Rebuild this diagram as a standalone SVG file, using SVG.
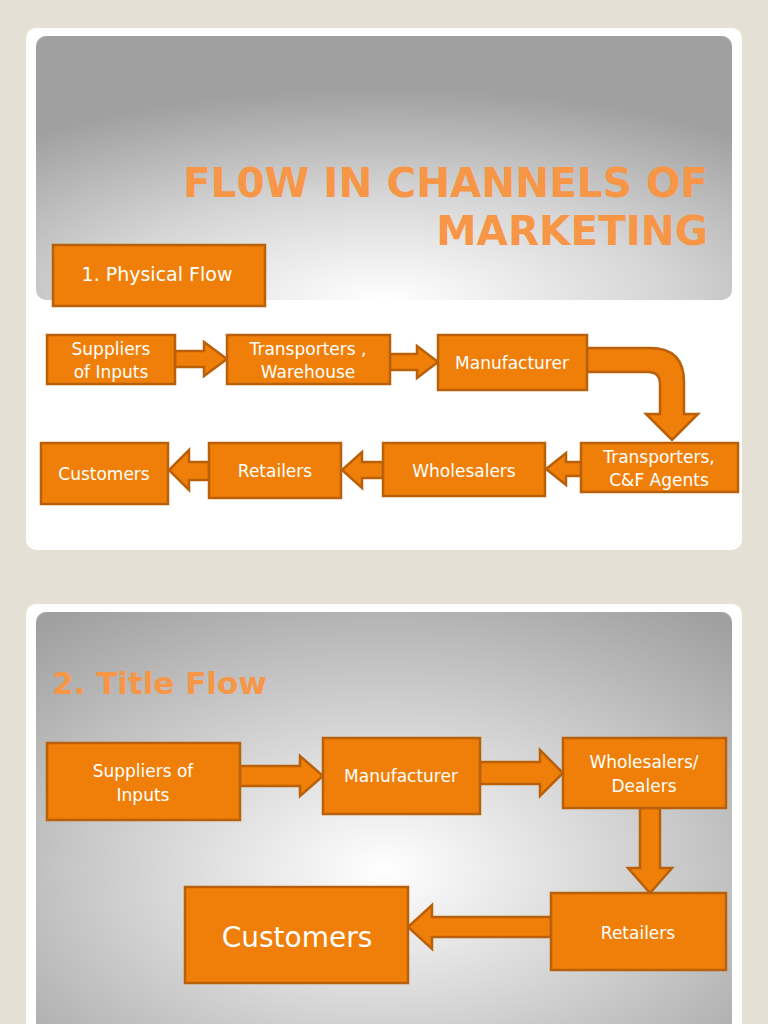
<svg xmlns="http://www.w3.org/2000/svg" width="768" height="1024" viewBox="0 0 768 1024">
<defs>
<radialGradient id="g1" cx="0.5" cy="1" r="0.8">
<stop offset="0" stop-color="#ffffff"/><stop offset="0.5" stop-color="#d6d6d6"/><stop offset="1" stop-color="#a0a0a0"/>
</radialGradient>
<radialGradient id="g2" cx="0.5" cy="0.6" r="0.75">
<stop offset="0" stop-color="#ffffff"/><stop offset="0.5" stop-color="#d0d0d0"/><stop offset="1" stop-color="#a0a0a0"/>
</radialGradient>
<style>
.b{fill:#f07f09;stroke:#b9600a;stroke-width:2.5}
.a{fill:#f07f09;stroke:#b9600a;stroke-width:2.5;stroke-linejoin:miter}
.t{font-family:"DejaVu Sans",Verdana,sans-serif;fill:#fff;font-size:17px;text-anchor:middle}
.h{font-family:"DejaVu Sans",sans-serif;font-weight:bold;fill:#f79646}
</style>
</defs>
<rect width="768" height="1024" fill="#e5e0d6"/>
<rect x="26" y="28" width="716" height="522" rx="10" fill="#fff"/>
<rect x="36" y="36" width="696" height="264" rx="10" fill="url(#g1)"/>
<rect x="26" y="604" width="716" height="440" rx="10" fill="#fff"/>
<rect x="36" y="612" width="696" height="430" rx="10" fill="url(#g2)"/>
<text class="h" x="708" y="197" style="font-size:40.5px" text-anchor="end">FL0W IN CHANNELS OF</text>
<text class="h" x="708" y="245" style="font-size:40.5px" text-anchor="end">MARKETING</text>
<text class="h" x="52" y="694" style="font-size:31px">2. Title Flow</text>
<g id="connectors">
<polygon class="a" points="175,351 204,351 204,342 227,359 204,376 204,367 175,367"/>
<polygon class="a" points="390,354 417,354 417,346 438,362 417,378 417,370 390,370"/>
<path class="a" d="M587,348 L650,348 Q684,348 684,382 L684,414 L698,414 L672,440 L646,414 L660,414 L660,384 Q660,372 648,372 L587,372 Z"/>
<polygon class="a" points="581,462 566,462 566,453 546,469 566,485 566,476 581,476"/>
<polygon class="a" points="383,462 362,462 362,452 342,470 362,488 362,478 383,478"/>
<polygon class="a" points="209,462 189,462 189,450 169,470 189,490 189,480 209,480"/>
<polygon class="a" points="240,766 300,766 300,756 323,776 300,796 300,786 240,786"/>
<polygon class="a" points="480,762 540,762 540,750 563,773 540,796 540,784 480,784"/>
<polygon class="a" points="640,808 660,808 660,868 672,868 650,893 628,868 640,868"/>
<polygon class="a" points="551,917 432,917 432,905 408,927 432,949 432,937 551,937"/>
</g>
<g id="n0"><rect class="b" x="53" y="245" width="212" height="61"/><text class="t" x="157" y="281" style="font-size:19px">1.  Physical Flow</text></g>
<g id="n1"><rect class="b" x="47" y="335" width="128" height="49"/><text class="t" x="111" y="355">Suppliers</text><text class="t" x="111" y="378">of Inputs</text></g>
<g id="n2"><rect class="b" x="227" y="335" width="163" height="49"/><text class="t" x="308" y="355">Transporters ,</text><text class="t" x="308" y="378">Warehouse</text></g>
<g id="n3"><rect class="b" x="438" y="335" width="149" height="55"/><text class="t" x="512" y="369">Manufacturer</text></g>
<g id="n4"><rect class="b" x="581" y="443" width="157" height="49"/><text class="t" x="659" y="463">Transporters,</text><text class="t" x="659" y="486">C&amp;F Agents</text></g>
<g id="n5"><rect class="b" x="383" y="443" width="162" height="53"/><text class="t" x="464" y="477">Wholesalers</text></g>
<g id="n6"><rect class="b" x="209" y="443" width="132" height="55"/><text class="t" x="275" y="477">Retailers</text></g>
<g id="n7"><rect class="b" x="41" y="443" width="127" height="61"/><text class="t" x="104" y="480">Customers</text></g>
<g id="m1"><rect class="b" x="47" y="743" width="193" height="77"/><text class="t" x="143" y="777">Suppliers of</text><text class="t" x="143" y="801">Inputs</text></g>
<g id="m2"><rect class="b" x="323" y="738" width="157" height="76"/><text class="t" x="401" y="782">Manufacturer</text></g>
<g id="m3"><rect class="b" x="563" y="738" width="163" height="70"/><text class="t" x="644" y="768">Wholesalers/</text><text class="t" x="644" y="792">Dealers</text></g>
<g id="m4"><rect class="b" x="551" y="893" width="175" height="77"/><text class="t" x="638" y="939">Retailers</text></g>
<g id="m5"><rect class="b" x="185" y="887" width="223" height="96"/><text class="t" x="297" y="947" style="font-size:28px">Customers</text></g>
</svg>
